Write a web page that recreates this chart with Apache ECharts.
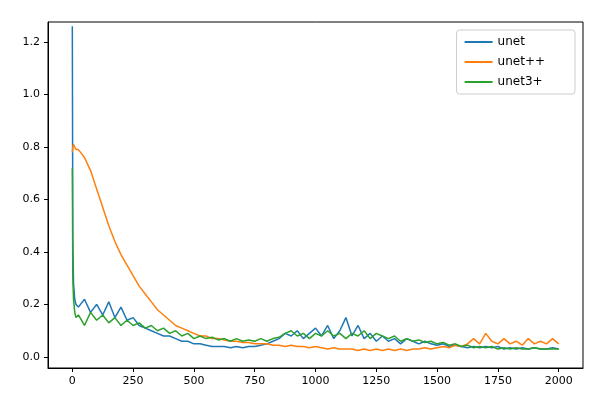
<!DOCTYPE html>
<html>
<head>
<meta charset="utf-8">
<script src="https://cdn.jsdelivr.net/npm/echarts@6/dist/echarts.min.js"></script>
</head>
<body style="margin:0;background:#fff">
<div id="main" style="width:600px;height:402px;"></div>
<script>
// training steps (x) and loss per model
var steps = [0,2,5,10,15,25,50,75,100,125,150,175,200,225,250,275,300,325,350,375,400,425,450,475,500,525,550,575,600,625,650,675,700,725,750,775,800,825,850,875,900,925,950,975,1000,1025,1050,1075,1100,1125,1150,1175,1200,1225,1250,1275,1300,1325,1350,1375,1400,1425,1450,1475,1500,1525,1550,1575,1600,1625,1650,1675,1700,1725,1750,1775,1800,1825,1850,1875,1900,1925,1950,1975,2000];
var unet = [1.26,0.45,0.28,0.22,0.2,0.19,0.22,0.17,0.2,0.16,0.21,0.15,0.19,0.14,0.15,0.12,0.11,0.1,0.09,0.08,0.08,0.07,0.06,0.06,0.05,0.05,0.045,0.04,0.04,0.04,0.035,0.04,0.035,0.04,0.04,0.045,0.05,0.06,0.07,0.09,0.08,0.1,0.07,0.09,0.11,0.08,0.12,0.07,0.1,0.15,0.08,0.12,0.07,0.09,0.06,0.08,0.06,0.07,0.05,0.07,0.06,0.05,0.06,0.05,0.045,0.05,0.04,0.045,0.04,0.035,0.04,0.035,0.04,0.035,0.04,0.03,0.035,0.03,0.035,0.03,0.035,0.03,0.03,0.035,0.03];
var unetpp = [0.78,0.8,0.81,0.8,0.79,0.79,0.76,0.71,0.64,0.57,0.5,0.44,0.39,0.35,0.31,0.27,0.24,0.21,0.18,0.16,0.14,0.12,0.11,0.1,0.09,0.08,0.08,0.07,0.07,0.065,0.06,0.06,0.055,0.055,0.05,0.05,0.05,0.045,0.045,0.04,0.045,0.04,0.04,0.035,0.04,0.035,0.03,0.035,0.03,0.03,0.03,0.025,0.03,0.025,0.03,0.025,0.03,0.025,0.03,0.025,0.03,0.03,0.035,0.03,0.035,0.04,0.035,0.045,0.04,0.05,0.07,0.05,0.09,0.06,0.05,0.07,0.05,0.06,0.045,0.07,0.05,0.06,0.05,0.07,0.05];
var unet3p = [0.72,0.3,0.22,0.17,0.15,0.16,0.12,0.17,0.14,0.16,0.13,0.15,0.12,0.14,0.12,0.13,0.11,0.12,0.1,0.11,0.09,0.1,0.08,0.09,0.07,0.08,0.07,0.075,0.065,0.07,0.06,0.07,0.06,0.065,0.06,0.07,0.06,0.07,0.075,0.09,0.1,0.08,0.09,0.07,0.09,0.08,0.1,0.08,0.09,0.07,0.09,0.08,0.1,0.07,0.09,0.08,0.07,0.08,0.06,0.07,0.06,0.065,0.055,0.06,0.05,0.055,0.045,0.05,0.04,0.045,0.035,0.04,0.035,0.04,0.03,0.035,0.03,0.035,0.03,0.03,0.035,0.03,0.03,0.03,0.03];
var xTicks = [0,250,500,750,1000,1250,1500,1750,2000];
var yTicks = [0,0.2,0.4,0.6,0.8,1.0,1.2];

function pairs(v) { return steps.map(function (s, i) { return [s, v[i]]; }); }

var chart = echarts.init(document.getElementById('main'));
var font = 'DejaVu Sans';
function line(name, data, color) {
  return { name: name, type: 'line', data: pairs(data), showSymbol: false,
    lineStyle: { width: 1.5, color: color }, itemStyle: { color: color } };
}
chart.setOption({
  animation: false,
  grid: { left: 48, right: 17, top: 22, bottom: 34, show: true, borderColor: '#000', borderWidth: 1 },
  legend: {
    orient: 'vertical', right: 25, top: 30, itemWidth: 28, itemHeight: 2, icon: 'rect',
    borderColor: '#ccc', borderWidth: 1, borderRadius: 3, padding: [6, 30, 6, 8], itemGap: 8,
    textStyle: { fontFamily: font, fontSize: 12, color: '#000' },
    data: ['unet', 'unet++', 'unet3+']
  },
  xAxis: {
    type: 'value', min: -100, max: 2100,
    axisLine: { onZero: false, lineStyle: { color: '#000' } },
    axisTick: { show: true, customValues: xTicks, length: 4, lineStyle: { color: '#000' } },
    axisLabel: { customValues: xTicks, fontFamily: font, fontSize: 11, color: '#000',
      formatter: function (v) { return String(v); } },
    splitLine: { show: false }
  },
  yAxis: {
    type: 'value', min: -0.042, max: 1.276,
    axisLine: { show: true, onZero: false, lineStyle: { color: '#000' } },
    axisTick: { show: true, customValues: yTicks, length: 4, lineStyle: { color: '#000' } },
    axisLabel: { customValues: yTicks, fontFamily: font, fontSize: 11, color: '#000',
      formatter: function (v) { return v.toFixed(1); } },
    splitLine: { show: false }
  },
  series: [
    line('unet', unet, '#1f77b4'),
    line('unet++', unetpp, '#ff7f0e'),
    line('unet3+', unet3p, '#2ca02c')
  ]
});
</script>
</body>
</html>
